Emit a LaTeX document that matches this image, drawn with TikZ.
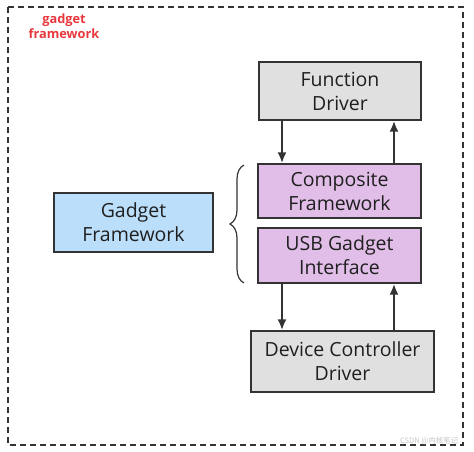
\documentclass[tikz,border=0pt]{standalone}
\usepackage{fontspec}
\setmainfont{Open Sans}
\newfontfamily\cjkfont{Noto Sans CJK SC}
\usetikzlibrary{arrows.meta,decorations.pathreplacing}

\definecolor{boxgray}{HTML}{E0E0E0}
\definecolor{boxpurple}{HTML}{E1BEE7}
\definecolor{boxblue}{HTML}{BBDEFB}
\definecolor{edgegray}{HTML}{333333}
\definecolor{titlered}{HTML}{E8383D}

\tikzset{
    layer/.style={draw=edgegray, line width=1.4pt, align=center, inner sep=0pt,
        font=\fontsize{19.5}{24}\selectfont, text=black!88},
    flow/.style={draw=edgegray, line width=2.5pt, -{Latex[length=11pt,width=9pt]}}
}

\begin{document}
\begin{tikzpicture}[x=1pt, y=-1pt]
    \useasboundingbox (0,0) rectangle (474,452);

    % outer frame
    \draw[gray!40!black, line width=1.3pt, dash pattern=on 6pt off 4pt] (8,7) rectangle (463,445);
    \node[text=titlered, font=\bfseries\fontsize{12.8}{15}\selectfont, align=center] (title) at (64,26) {gadget\\framework};

    % layers
    \node[layer, fill=boxgray, minimum width=162pt, minimum height=58pt] (fd) at (340,91) {Function\\Driver};
    \node[layer, fill=boxpurple, minimum width=163pt, minimum height=54pt] (cf) at (339.5,191) {Composite\\Framework};
    \node[layer, fill=boxpurple, minimum width=163pt, minimum height=55pt] (ugi) at (339.5,255.5) {USB Gadget\\Interface};
    \node[layer, fill=boxgray, minimum width=183pt, minimum height=61pt] (dcd) at (342.5,361.5) {Device Controller\\Driver};
    \node[layer, fill=boxblue, minimum width=159pt, minimum height=59pt] (gf) at (133.5,222.5) {Gadget\\Framework};

    % arrows
    \coordinate (lx) at (282,0);
    \coordinate (rx) at (394,0);
    \draw[flow] (fd.south -| lx) -- (cf.north -| lx);
    \draw[flow] (cf.north -| rx) -- (fd.south -| rx);
    \draw[flow] (ugi.south -| lx) -- (dcd.north -| lx);
    \draw[flow] (dcd.north -| rx) -- (ugi.south -| rx);

    % brace
    \coordinate (bb) at (244,283);
    \coordinate (bt) at (244,165);
    \draw[edgegray, line width=1.2pt, decorate, decoration={brace, amplitude=14pt}] (bb) -- (bt);

    % watermark
    \node[text=gray!45, font=\cjkfont\fontsize{7.5}{9}\selectfont, anchor=east] (mark) at (462,441) {CSDN @内核笔记};
\end{tikzpicture}
\end{document}
